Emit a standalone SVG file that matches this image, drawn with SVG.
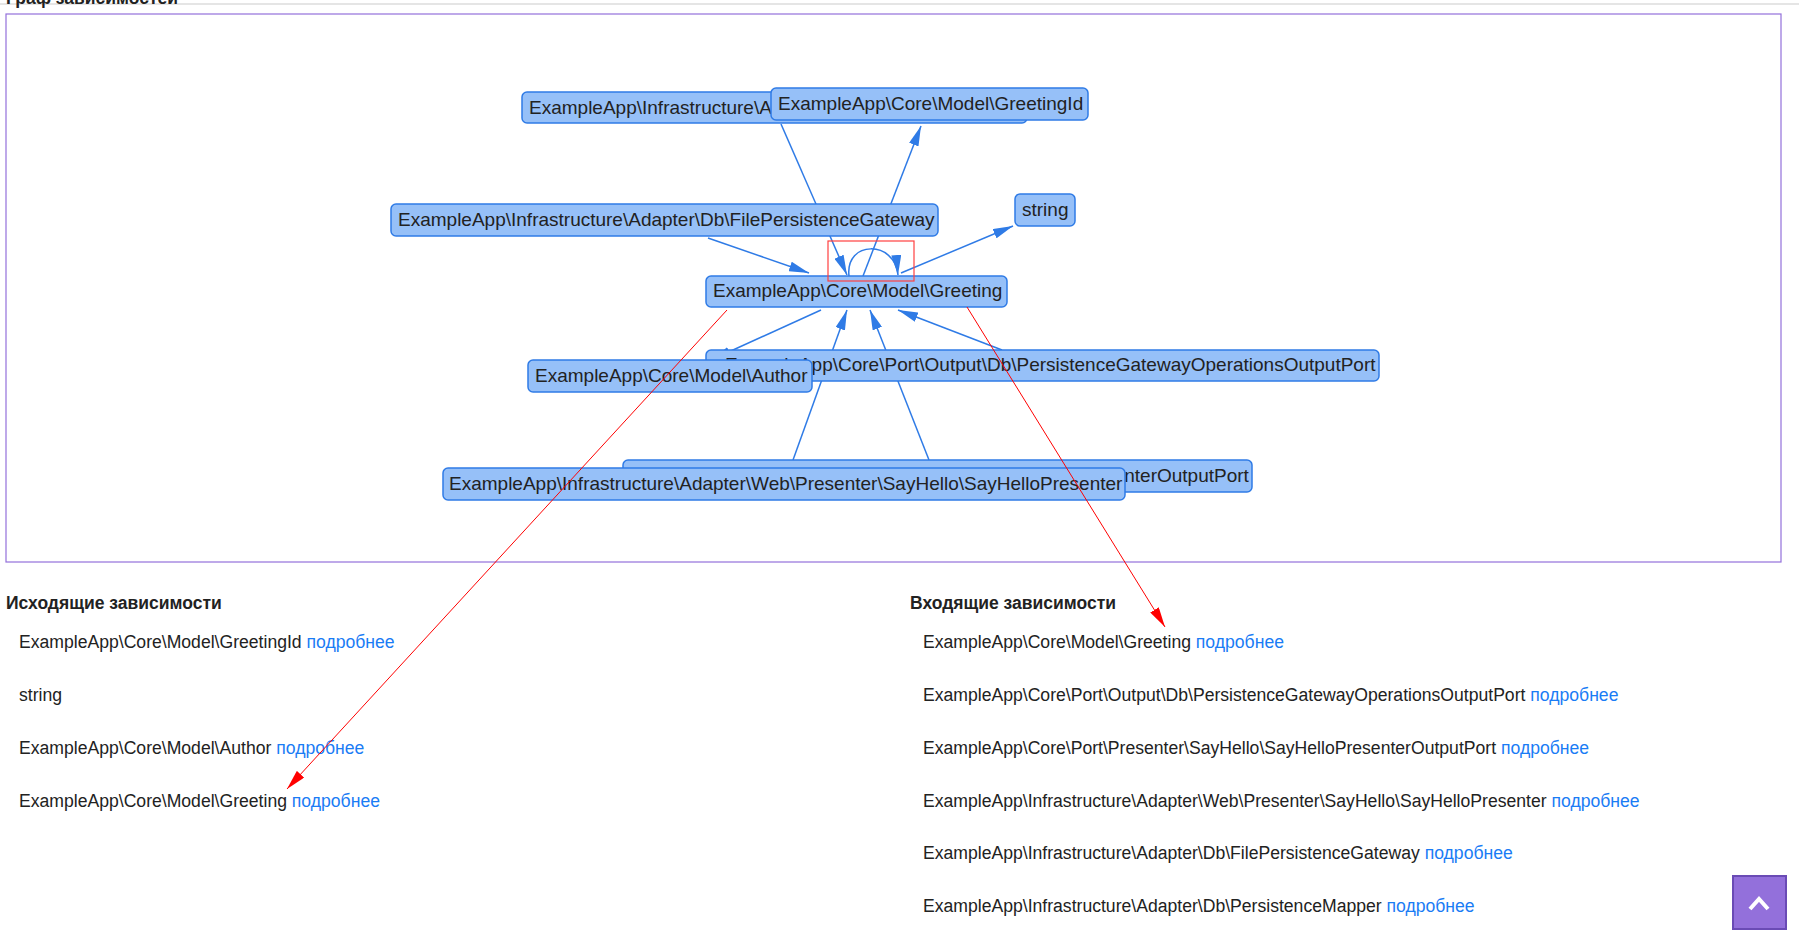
<svg xmlns="http://www.w3.org/2000/svg" width="1799" height="943" viewBox="0 0 1799 943">
<style>
.n rect{fill:#96c0f8;stroke:#2f7be6;stroke-width:1.5}
.n text{font-family:"Liberation Sans",Arial,sans-serif;font-size:19px;fill:#222}
.e{stroke:#2f7be6;stroke-width:1.5;fill:none;marker-end:url(#a)}
.r{stroke:#ff0000;stroke-width:1;fill:none;marker-end:url(#ra)}
.h{font-family:"Liberation Sans",Arial,sans-serif;font-size:17.5px;font-weight:bold;fill:#222}
.t{font-family:"Liberation Sans",Arial,sans-serif;font-size:17.6px;fill:#222}
.l{fill:#1a7cf5}
</style>
<defs>
<marker id="a" viewBox="0 0 20 10" refX="20" refY="5" markerWidth="20" markerHeight="10" markerUnits="userSpaceOnUse" orient="auto"><path d="M0,0L20,5L0,10z" fill="#2f7be6"/></marker>
<marker id="ra" viewBox="0 0 20 10" refX="20" refY="5" markerWidth="20" markerHeight="10" markerUnits="userSpaceOnUse" orient="auto"><path d="M0,0L20,5L0,10z" fill="#ff0000"/></marker>
</defs>
<rect width="1799" height="943" fill="#fff"/>
<line x1="0" y1="4" x2="1799" y2="4" stroke="#ddd" stroke-width="1.5"/>
<text x="6" y="4" class="h">Граф зависимостей</text>
<rect x="6" y="14" width="1775" height="548" fill="none" stroke="#9370db" stroke-width="1.2"/>
<g id="connectors">
<line class="e" x1="781" y1="124" x2="847" y2="275"/>
<line class="e" x1="863" y1="276" x2="921" y2="126"/>
<line class="e" x1="708" y1="238" x2="809" y2="273"/>
<line class="e" x1="901" y1="273" x2="1013" y2="226"/>
<path class="e" d="M849,276 C845,240 895,240 898,275"/>
<line class="e" x1="821" y1="310" x2="711" y2="360"/>
<line class="e" x1="793" y1="460" x2="847" y2="310"/>
<line class="e" x1="929" y1="460" x2="870" y2="310"/>
<line class="e" x1="1002" y1="350" x2="898" y2="310"/>
</g>
<g id="n-mapper" class="n"><rect x="522" y="92" width="505" height="31" rx="5"/><text x="529" y="114">ExampleApp\Infrastructure\Adapter\Db\PersistenceMapper</text></g>
<g id="n-greetingid" class="n"><rect x="771" y="88" width="317" height="32" rx="5"/><text x="778" y="110">ExampleApp\Core\Model\GreetingId</text></g>
<g id="n-filegw" class="n"><rect x="391" y="204" width="547" height="32" rx="5"/><text x="398" y="226">ExampleApp\Infrastructure\Adapter\Db\FilePersistenceGateway</text></g>
<g id="n-string" class="n"><rect x="1015" y="194" width="60" height="32" rx="5"/><text x="1022" y="216">string</text></g>
<g id="n-greeting" class="n"><rect x="706" y="276" width="301" height="31" rx="5"/><text x="713" y="297">ExampleApp\Core\Model\Greeting</text></g>
<g id="n-pgoop" class="n"><rect x="706" y="350" width="673" height="31" rx="5"/><text x="725" y="371">ExampleApp\Core\Port\Output\Db\PersistenceGatewayOperationsOutputPort</text></g>
<g id="n-author" class="n"><rect x="528" y="360" width="284" height="32" rx="5"/><text x="535" y="382">ExampleApp\Core\Model\Author</text></g>
<g id="n-shpop" class="n"><rect x="623" y="460" width="629" height="32" rx="5"/><text x="630" y="482">ExampleApp\Core\Port\Presenter\SayHello\SayHelloPresenterOutputPort</text></g>
<g id="n-shp" class="n"><rect x="443" y="468" width="682" height="32" rx="5"/><text x="449" y="490">ExampleApp\Infrastructure\Adapter\Web\Presenter\SayHello\SayHelloPresenter</text></g>
<rect x="828" y="241" width="86" height="40" fill="none" stroke="#ff4040" stroke-width="1.2"/>
<text x="6" y="609" class="h">Исходящие зависимости</text>
<text x="910" y="609" class="h">Входящие зависимости</text>
<text class="t" x="19" y="648">ExampleApp\Core\Model\GreetingId <tspan class="l">подробнее</tspan></text>
<text class="t" x="19" y="701">string</text>
<text class="t" x="19" y="754">ExampleApp\Core\Model\Author <tspan class="l">подробнее</tspan></text>
<text class="t" x="19" y="807">ExampleApp\Core\Model\Greeting <tspan class="l">подробнее</tspan></text>
<text class="t" x="923" y="648">ExampleApp\Core\Model\Greeting <tspan class="l">подробнее</tspan></text>
<text class="t" x="923" y="701">ExampleApp\Core\Port\Output\Db\PersistenceGatewayOperationsOutputPort <tspan class="l">подробнее</tspan></text>
<text class="t" x="923" y="754">ExampleApp\Core\Port\Presenter\SayHello\SayHelloPresenterOutputPort <tspan class="l">подробнее</tspan></text>
<text class="t" x="923" y="807">ExampleApp\Infrastructure\Adapter\Web\Presenter\SayHello\SayHelloPresenter <tspan class="l">подробнее</tspan></text>
<text class="t" x="923" y="859">ExampleApp\Infrastructure\Adapter\Db\FilePersistenceGateway <tspan class="l">подробнее</tspan></text>
<text class="t" x="923" y="912">ExampleApp\Infrastructure\Adapter\Db\PersistenceMapper <tspan class="l">подробнее</tspan></text>
<line class="r" x1="727" y1="310" x2="287" y2="789"/>
<line class="r" x1="967" y1="307" x2="1165" y2="627"/>
<rect x="1733" y="876" width="53" height="53" fill="#9370db" stroke="#6a4bb5" stroke-width="2"/>
<path d="M1750,909 L1759,899 L1768,909" fill="none" stroke="#fff" stroke-width="4"/>
</svg>
